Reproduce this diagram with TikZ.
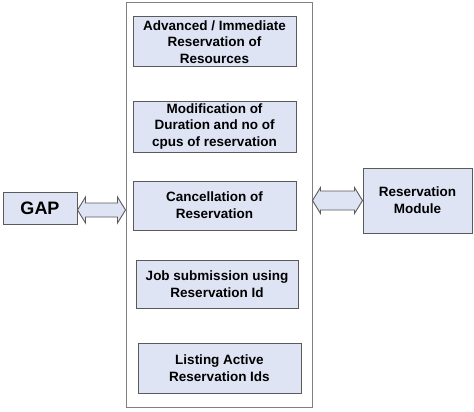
\documentclass[tikz,border=0pt]{standalone}
\usepackage{fontspec}
\setmainfont{Liberation Sans}
\usetikzlibrary{calc}
\definecolor{boxfill}{HTML}{DEE4F4}
\definecolor{boxline}{HTML}{5A5A5A}
\tikzset{
  func/.style={draw=boxline, line width=1pt, fill=boxfill, align=center, inner sep=0pt,
    font=\fontsize{13.5}{16.7}\selectfont\bfseries},
  dblarrow/.style={draw=boxline, line width=0.9pt, fill=boxfill, line join=miter},
}
\begin{document}
\begin{tikzpicture}[x=1pt,y=-1pt]
\useasboundingbox (0,0) rectangle (474,412);
\fill[white] (0,0) rectangle (474,412);
\node[draw=black!50, line width=1pt, minimum width=186pt, minimum height=404pt, inner sep=0pt] (outer) at (219,205) {};
\node[func, minimum width=163pt, minimum height=50pt] (b1) at (214.5,42) {Advanced / Immediate\\Reservation of\\Resources};
\node[func, minimum width=163pt, minimum height=51pt] (b2) at (214.5,126.5) {Modification of\\Duration and no of\\cpus of reservation};
\node[func, minimum width=163pt, minimum height=49pt] (b3) at (214.5,205.5) {Cancellation of\\Reservation};
\node[func, minimum width=162pt, minimum height=48pt] (b4) at (217,284) {Job submission using\\Reservation Id};
\node[func, minimum width=163pt, minimum height=50pt] (b5) at (219.5,368) {Listing Active\\Reservation Ids};
\node[func, minimum width=74pt, minimum height=32pt, font=\fontsize{18}{20}\selectfont\bfseries] (gap) at (40,208) {GAP};
\node[func, minimum width=109pt, minimum height=65pt] (rm) at (417.5,200.5) {Reservation\\Module};
% left double arrow
\draw[dblarrow] let \p1=(gap.east), \p2=($(outer.west|-gap.east)+(0,2)$) in
  (\x1,\y2) -- (\x1+8pt,\y2+13pt) -- (\x1+8pt,\y2+7pt) -- (\x2-8pt,\y2+7pt) -- (\x2-8pt,\y2+13pt)
  -- (\x2,\y2) -- (\x2-8pt,\y2-13pt) -- (\x2-8pt,\y2-7pt) -- (\x1+8pt,\y2-7pt) -- (\x1+8pt,\y2-13pt) -- cycle;
% right double arrow
\draw[dblarrow] let \p1=(outer.east|-rm.west), \p2=(rm.west) in
  (\x1,\y2) -- (\x1+8pt,\y2+13pt) -- (\x1+8pt,\y2+9.5pt) -- (\x2-8pt,\y2+9.5pt) -- (\x2-8pt,\y2+13pt)
  -- (\x2,\y2) -- (\x2-8pt,\y2-13pt) -- (\x2-8pt,\y2-9.5pt) -- (\x1+8pt,\y2-9.5pt) -- (\x1+8pt,\y2-13pt) -- cycle;
\end{tikzpicture}
\end{document}
